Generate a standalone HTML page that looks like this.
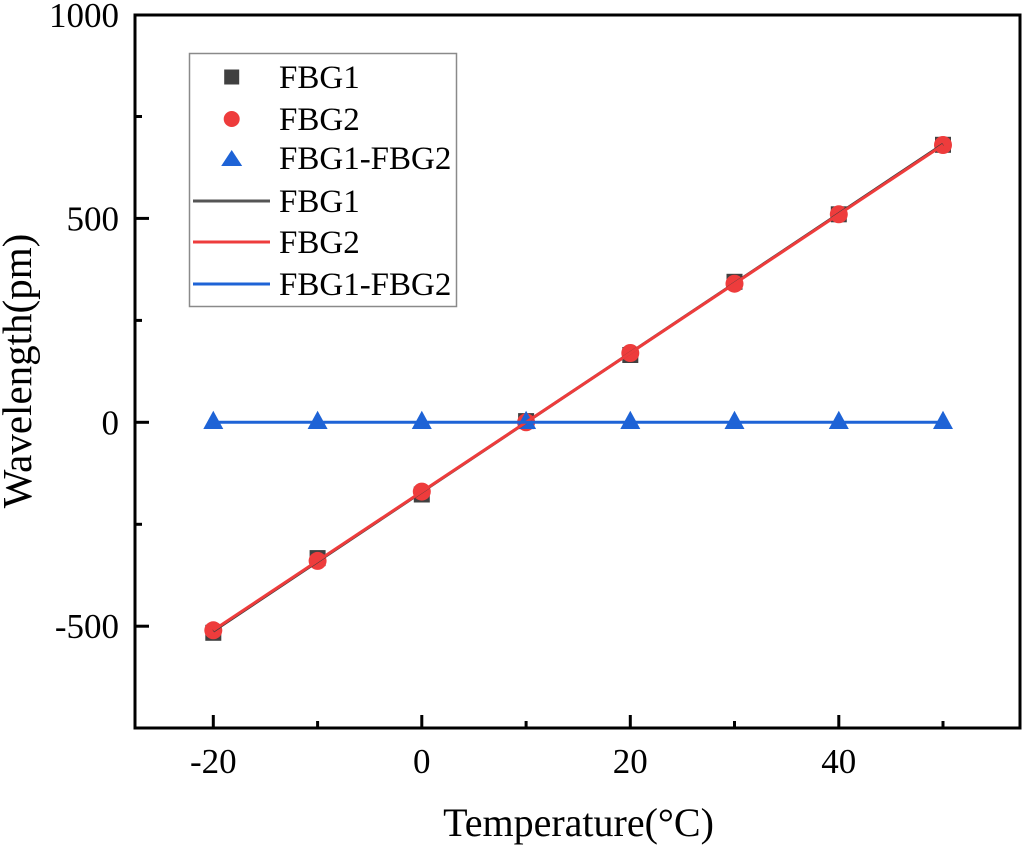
<!DOCTYPE html>
<html>
<head>
<meta charset="utf-8">
<style>
  html,body{margin:0;padding:0;background:#fff;}
  svg{display:block;}
  text{font-family:"Liberation Serif","Times New Roman",serif;fill:#000;}
</style>
</head>
<body>
<svg width="1025" height="847" viewBox="0 0 1025 847" xmlns="http://www.w3.org/2000/svg">
  <rect x="0" y="0" width="1025" height="847" fill="#fff"/>

  <!-- markers: FBG1 squares -->
  <g fill="#404040">
    <rect x="205.3" y="624.8" width="16" height="16"/>
    <rect x="309.6" y="550.1" width="16" height="16"/>
    <rect x="413.8" y="486.5" width="16" height="16"/>
    <rect x="518.1" y="413.1" width="16" height="16"/>
    <rect x="622.3" y="347.0" width="16" height="16"/>
    <rect x="726.5" y="273.8" width="16" height="16"/>
    <rect x="830.8" y="206.3" width="16" height="16"/>
    <rect x="935.0" y="136.8" width="16" height="16"/>
  </g>
  <!-- FBG2 circles -->
  <g fill="#EE3C3C">
    <circle cx="213.3" cy="630.3" r="9"/>
    <circle cx="317.6" cy="560.9" r="9"/>
    <circle cx="421.8" cy="491.6" r="9"/>
    <circle cx="526.1" cy="422.3" r="9"/>
    <circle cx="630.3" cy="353.0" r="9"/>
    <circle cx="734.5" cy="283.7" r="9"/>
    <circle cx="838.8" cy="214.3" r="9"/>
    <circle cx="943.0" cy="145.0" r="9"/>
  </g>
  <!-- FBG1-FBG2 triangles -->
  <g fill="#1E63D6">
    <polygon points="213.3,410.7 203.3,429 223.3,429"/>
    <polygon points="317.6,410.7 307.6,429 327.6,429"/>
    <polygon points="421.8,410.7 411.8,429 431.8,429"/>
    <polygon points="526.1,410.7 516.1,429 536.1,429"/>
    <polygon points="630.3,410.7 620.3,429 640.3,429"/>
    <polygon points="734.5,410.7 724.5,429 744.5,429"/>
    <polygon points="838.8,410.7 828.8,429 848.8,429"/>
    <polygon points="943.0,410.7 933.0,429 953.0,429"/>
  </g>

  <!-- fitted lines -->
  <line x1="213.3" y1="631.1" x2="943.0" y2="144.2" stroke="#3c3c3c" stroke-width="3"/>
  <line x1="213.3" y1="630.3" x2="943.0" y2="145.0" stroke="#EE3C3C" stroke-width="3"/>
  <line x1="213.3" y1="422.3" x2="943.0" y2="422.3" stroke="#1E63D6" stroke-width="3"/>

  <!-- frame -->
  <rect x="135" y="15" width="885" height="713" fill="none" stroke="#000" stroke-width="3"/>

  <!-- x ticks -->
  <g stroke="#000" stroke-width="3">
    <line x1="213.3" y1="728" x2="213.3" y2="715"/>
    <line x1="421.8" y1="728" x2="421.8" y2="715"/>
    <line x1="630.3" y1="728" x2="630.3" y2="715"/>
    <line x1="838.8" y1="728" x2="838.8" y2="715"/>
    <line x1="317.6" y1="728" x2="317.6" y2="721"/>
    <line x1="526.1" y1="728" x2="526.1" y2="721"/>
    <line x1="734.5" y1="728" x2="734.5" y2="721"/>
    <line x1="943.0" y1="728" x2="943.0" y2="721"/>
  </g>
  <!-- y ticks -->
  <g stroke="#000" stroke-width="3">
    <line x1="135" y1="218.4" x2="149" y2="218.4"/>
    <line x1="135" y1="422.3" x2="149" y2="422.3"/>
    <line x1="135" y1="626.2" x2="149" y2="626.2"/>
    <line x1="135" y1="116.5" x2="142" y2="116.5"/>
    <line x1="135" y1="320.4" x2="142" y2="320.4"/>
    <line x1="135" y1="524.3" x2="142" y2="524.3"/>
  </g>

  <!-- x tick labels -->
  <g font-size="35" text-anchor="middle">
    <text x="213.3" y="773">-20</text>
    <text x="421.8" y="773">0</text>
    <text x="630.3" y="773">20</text>
    <text x="838.8" y="773">40</text>
  </g>
  <!-- y tick labels -->
  <g font-size="35" text-anchor="end">
    <text x="119" y="27">1000</text>
    <text x="119" y="230.4">500</text>
    <text x="119" y="434.3">0</text>
    <text x="119" y="638.2">-500</text>
  </g>

  <!-- axis titles -->
  <text x="578.5" y="836" font-size="40" text-anchor="middle">Temperature(°C)</text>
  <text transform="translate(31,371) rotate(-90)" font-size="41" text-anchor="middle">Wavelength(pm)</text>

  <!-- legend -->
  <rect x="189.5" y="53.5" width="267" height="253" fill="#fff" stroke="#8a8a8a" stroke-width="1.5"/>
  <rect x="224.2" y="69.5" width="15" height="15" fill="#404040"/>
  <circle cx="231.7" cy="119" r="8" fill="#EE3C3C"/>
  <polygon points="231.7,150 221.2,166 242.2,166" fill="#1E63D6"/>
  <line x1="193" y1="201" x2="270" y2="201" stroke="#555" stroke-width="3"/>
  <line x1="193" y1="242" x2="270" y2="242" stroke="#EE3C3C" stroke-width="3"/>
  <line x1="193" y1="284" x2="270" y2="284" stroke="#1E63D6" stroke-width="3"/>
  <g font-size="33">
    <text x="279" y="88">FBG1</text>
    <text x="279" y="130">FBG2</text>
    <text x="279" y="169">FBG1-FBG2</text>
    <text x="279" y="212">FBG1</text>
    <text x="279" y="253">FBG2</text>
    <text x="279" y="295">FBG1-FBG2</text>
  </g>
</svg>
</body>
</html>
